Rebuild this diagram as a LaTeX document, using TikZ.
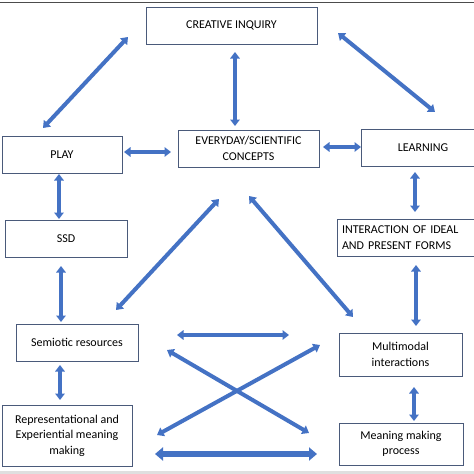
\documentclass[tikz,border=0pt]{standalone}
\usepackage{fontspec}
\setmainfont{Carlito}
\usetikzlibrary{arrows.meta}
\definecolor{arrowblue}{HTML}{4472C4}
\definecolor{boxline}{HTML}{4A5A7A}
\begin{document}
\begin{tikzpicture}[
  x=1pt, y=-1pt,
  box/.style={draw=boxline, line width=1pt, fill=white, align=center, inner sep=2pt, font=\fontsize{12}{15.5}\selectfont},
  dbl/.style={{Triangle[width=9.5pt,length=6.5pt]}-{Triangle[width=9.5pt,length=6.5pt]}, line width=4pt, draw=arrowblue},
  wide/.style={{Triangle[width=13pt,length=8pt]}-{Triangle[width=13pt,length=8pt]}, line width=6pt, draw=arrowblue}
]
\useasboundingbox (0,0) rectangle (474,474);
\fill[gray!25] (0,471) rectangle (474,474);
\draw[black!70, line width=1.5pt] (0,2.5) -- (474,2.5);

% boxes
\node[box, minimum width=171pt, minimum height=37pt] (ci) at (231.5,25.5) {CREATIVE INQUIRY};
\node[box, minimum width=120pt, minimum height=37pt] (play) at (62,154.5) {PLAY};
\node[box, minimum width=141pt, minimum height=37pt] (concepts) at (248.5,148.5) {EVERYDAY/SCIENTIFIC\\CONCEPTS};
\node[box, minimum width=124pt, minimum height=37pt] (learning) at (423,147.5) {LEARNING};
\node[box, minimum width=122pt, minimum height=37pt] (ssd) at (66,238.5) {SSD};
\node[box, minimum width=140pt, minimum height=37pt, text width=130pt, align=left] (ideal) at (407,237.5) {INTERACTION OF IDEAL\\AND PRESENT FORMS};
\node[box, minimum width=122pt, minimum height=37pt] (semiotic) at (77,342.5) {Semiotic resources};
\node[box, minimum width=123pt, minimum height=43pt] (multimodal) at (400.5,354.5) {Multimodal\\interactions};
\node[box, minimum width=130pt, minimum height=61pt] (repr) at (67,435.5) {Representational and\\Experiential meaning\\making};
\node[box, minimum width=124pt, minimum height=42pt] (meaning) at (401,444) {Meaning making\\process};

% arrow ends
\coordinate (ci-a) at (128,37);       \coordinate (play-a) at (43,128);
\coordinate (ci-b) at (235,52);       \coordinate (con-a) at (235,126);
\coordinate (ci-c) at (338,33);       \coordinate (lrn-a) at (435,112);
\coordinate (play-b) at (124,152);    \coordinate (con-b) at (171,152);
\coordinate (con-c) at (323,147);     \coordinate (lrn-b) at (361,147);
\coordinate (play-c) at (59,174);     \coordinate (ssd-a) at (59,219);
\coordinate (lrn-c) at (415,172);     \coordinate (ideal-a) at (415,212);
\coordinate (con-d) at (219,199);     \coordinate (sem-a) at (116,310);
\coordinate (con-e) at (249,196);     \coordinate (mm-a) at (353,317);
\coordinate (ssd-b) at (61,266);      \coordinate (sem-b) at (61,322);
\coordinate (ideal-b) at (416,265);   \coordinate (mm-b) at (416,326);
\coordinate (sem-c) at (177,335);     \coordinate (mm-c) at (289,335);
\coordinate (sem-d) at (167,350);     \coordinate (mp-a) at (309,433);
\coordinate (mm-d) at (320,345);      \coordinate (rep-a) at (157,435);
\coordinate (sem-e) at (60,365);      \coordinate (rep-b) at (60,400);
\coordinate (mm-e) at (414,387);      \coordinate (mp-b) at (414,421);
\coordinate (rep-c) at (155,454);     \coordinate (mp-c) at (317,454);

% arrows
\draw[dbl] (ci-a) -- (play-a);
\draw[dbl] (ci-b) -- (con-a);
\draw[dbl] (ci-c) -- (lrn-a);
\draw[dbl] (play-b) -- (con-b);
\draw[dbl] (con-c) -- (lrn-b);
\draw[dbl] (play-c) -- (ssd-a);
\draw[dbl] (lrn-c) -- (ideal-a);
\draw[dbl] (con-d) -- (sem-a);
\draw[dbl] (con-e) -- (mm-a);
\draw[dbl] (ssd-b) -- (sem-b);
\draw[dbl] (ideal-b) -- (mm-b);
\draw[dbl] (sem-c) -- (mm-c);
\draw[dbl] (sem-d) -- (mp-a);
\draw[dbl] (mm-d) -- (rep-a);
\draw[dbl] (sem-e) -- (rep-b);
\draw[dbl] (mm-e) -- (mp-b);
\draw[wide] (rep-c) -- (mp-c);
\end{tikzpicture}
\end{document}
